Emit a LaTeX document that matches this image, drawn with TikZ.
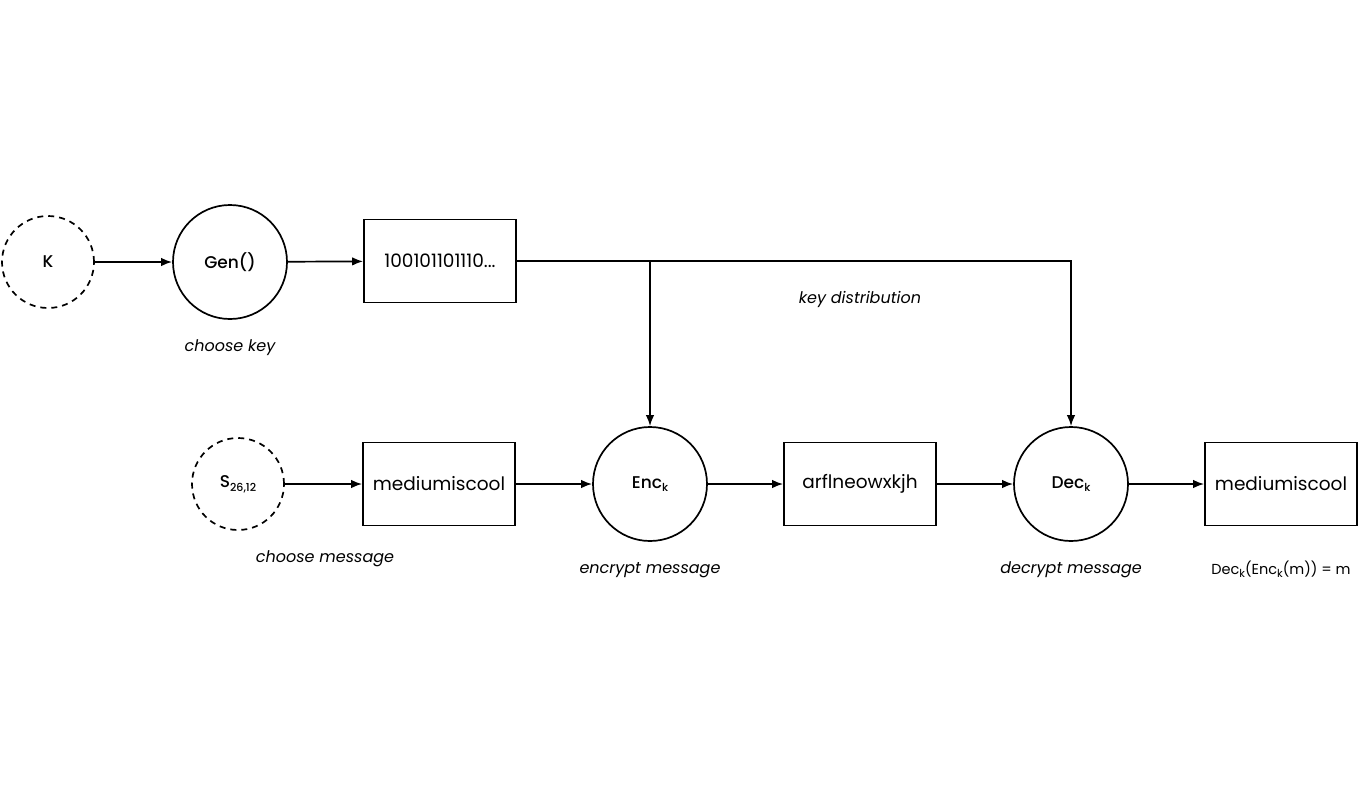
\documentclass[tikz,border=0pt]{standalone}
\usepackage{fontspec}
\setmainfont{Poppins}
\newfontfamily\medfont{Poppins Medium}
\usetikzlibrary{arrows.meta}
\newcommand{\lowsub}[1]{\raisebox{-0.4ex}{\fontsize{11}{12}\selectfont #1}}
\begin{document}
\begin{tikzpicture}[x=1pt,y=-1pt,
  every node/.style={font=\fontsize{18.5}{20}\selectfont},
  circ/.style={circle,draw,line width=1.7pt,minimum size=#1,inner sep=0pt,font=\fontsize{17}{19}\selectfont\medfont},
  dcirc/.style={circ=#1,dashed,dash pattern=on 6pt off 5pt},
  box/.style={rectangle,draw,line width=1.7pt,minimum width=152pt,minimum height=83pt,inner sep=0pt},
  lbl/.style={font=\fontsize{16}{18}\selectfont\itshape},
  arr/.style={-{Latex[length=11pt,width=8.5pt]},line width=1.7pt}]
\useasboundingbox (0,0) rectangle (1359,793);
\node[dcirc=92pt] (K) at (48,262) {K};
\node[circ=114pt] (gen) at (230,262) {Gen()};
\node[box] (key) at (440,261) {100101101110...};
\node[dcirc=92pt] (S) at (238,484) {S\lowsub{26,12}};
\node[box] (m1) at (439,484) {mediumiscool};
\node[circ=114pt] (enc) at (650,484) {Enc\lowsub{k}};
\node[box] (c) at (860,484) {arflneowxkjh};
\node[circ=114pt] (dec) at (1071,484) {Dec\lowsub{k}};
\node[box] (m2) at (1281,484) {mediumiscool};
\node[lbl] (l1) at (230,348) {choose key};
\node[lbl] (l2) at (860,299) {key distribution};
\node[lbl] (l3) at (325,559) {choose message};
\node[lbl] (l4) at (650,570) {encrypt message};
\node[lbl] (l5) at (1071,570) {decrypt message};
\node[font=\fontsize{14.5}{16}\selectfont] (l6) at (1281,569) {Dec\lowsub{k}(Enc\lowsub{k}(m)) = m};
\draw[arr] (K) -- (gen);
\draw[arr] (gen) -- (key);
\draw[arr] (key.east) -| (enc.north);
\draw[arr] (key.east) -| (dec.north);
\draw[arr] (S) -- (m1);
\draw[arr] (m1) -- (enc);
\draw[arr] (enc) -- (c);
\draw[arr] (c) -- (dec);
\draw[arr] (dec) -- (m2);
\end{tikzpicture}
\end{document}
